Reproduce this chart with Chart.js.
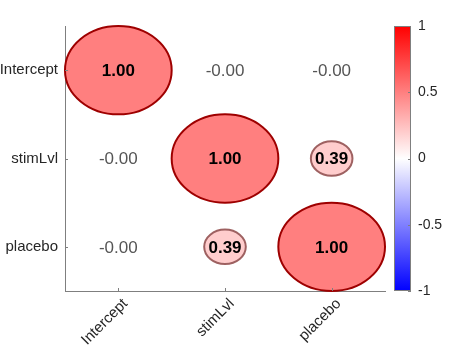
<!DOCTYPE html>
<html>
<head>
<meta charset="utf-8">
<script src="https://cdn.jsdelivr.net/npm/chart.js@4.4.0/dist/chart.umd.min.js"></script>
<style>
html, body { margin: 0; padding: 0; background: #fff; }
</style>
</head>
<body>
<canvas id="corrChart" width="474" height="351"></canvas>
<script>
// variable names and correlation matrix rows
const varNames = ['Intercept', 'stimLvl', 'placebo'];
const corrIntercept = [1.00, -0.001, -0.001];
const corrStimLvl = [-0.001, 1.00, 0.39];
const corrPlacebo = [-0.001, 0.39, 1.00];
const corrRows = [corrIntercept, corrStimLvl, corrPlacebo];
const cbTicks = [-1, -0.5, 0, 0.5, 1];

const FONT = '"Liberation Sans", Arial, Helvetica, sans-serif';

// one point per cell
const cells = [];
corrRows.forEach((row, i) => {
    row.forEach((v, j) => {
        cells.push({x: j + 1, y: i + 1, r: v});
    });
});

function cmap(v) {
    // blue - white - red
    if (v >= 0) return [255, Math.round(255 * (1 - v)), Math.round(255 * (1 - v))];
    return [Math.round(255 * (1 + v)), Math.round(255 * (1 + v)), 255];
}

const corrPlugin = {
    id: 'corrPlugin',
    afterDatasetsDraw(chart) {
        const ctx = chart.ctx;
        const xs = chart.scales.x, ys = chart.scales.y;
        const meta = chart.getDatasetMeta(0);
        ctx.save();
        meta.data.forEach((pt, k) => {
            const d = cells[k];
            const a = Math.abs(d.r);
            const cx = xs.getPixelForValue(d.x), cy = ys.getPixelForValue(d.y);
            const rx = Math.abs(xs.getPixelForValue(d.x + 0.5 * a) - cx);
            const ry = Math.abs(ys.getPixelForValue(d.y + 0.5 * a) - cy);
            const c = cmap(d.r);
            const txt = d.r.toFixed(2);
            if (a >= 0.005) {
                ctx.beginPath();
                ctx.ellipse(cx, cy, rx, ry, 0, 0, Math.PI * 2);
                ctx.fillStyle = 'rgba(' + c[0] + ',' + c[1] + ',' + c[2] + ',0.5)';
                ctx.fill();
                ctx.lineWidth = 2;
                ctx.strokeStyle = 'rgb(' + Math.round(c[0] * 0.62) + ',' + Math.round(c[1] * 0.62) + ',' + Math.round(c[2] * 0.62) + ')';
                ctx.stroke();
                ctx.fillStyle = '#000';
                ctx.font = 'bold 17px ' + FONT;
            } else {
                ctx.fillStyle = '#555';
                ctx.font = '17px ' + FONT;
            }
            ctx.textAlign = 'center';
            ctx.textBaseline = 'middle';
            ctx.fillText(txt, cx, cy + 1);
        });

        // inward ticks on the axes
        ctx.strokeStyle = '#7f7f7f';
        ctx.lineWidth = 1;
        const area = chart.chartArea;
        varNames.forEach((n, i) => {
            const px = Math.round(xs.getPixelForValue(i + 1)) + 0.5;
            ctx.beginPath();
            ctx.moveTo(px, area.bottom);
            ctx.lineTo(px, area.bottom - 3);
            ctx.stroke();
            const py = Math.round(ys.getPixelForValue(i + 1)) + 0.5;
            ctx.beginPath();
            ctx.moveTo(area.left, py);
            ctx.lineTo(area.left + 3, py);
            ctx.stroke();
        });

        // colorbar
        const cb = chart.scales.cb;
        const x0 = cb.left + 9, w = 17;
        const top = cb.getPixelForValue(1), bot = cb.getPixelForValue(-1);
        const g = ctx.createLinearGradient(0, top, 0, bot);
        g.addColorStop(0, 'rgb(255,0,0)');
        g.addColorStop(0.5, 'rgb(255,255,255)');
        g.addColorStop(1, 'rgb(0,0,255)');
        ctx.fillStyle = g;
        ctx.fillRect(x0, top, w, bot - top);
        ctx.strokeStyle = '#7f7f7f';
        ctx.strokeRect(x0 + 0.5, top + 0.5, w - 1, bot - top - 1);
        cbTicks.forEach(t => {
            const py = Math.round(cb.getPixelForValue(t)) + 0.5;
            ctx.beginPath();
            ctx.moveTo(x0 + w, py);
            ctx.lineTo(x0 + w - 3, py);
            ctx.stroke();
        });
        ctx.restore();
    }
};

function catTicks(scale) {
    scale.ticks = varNames.map((n, i) => ({value: i + 1}));
}

const corrChart = new Chart(document.getElementById('corrChart').getContext('2d'), {
    type: 'scatter',
    data: {
        datasets: [{
            data: cells,
            pointRadius: 0,
            pointHoverRadius: 0
        }]
    },
    options: {
        responsive: false,
        animation: false,
        events: [],
        layout: { padding: { top: 26, left: 0, right: 0, bottom: 0 } },
        plugins: {
            legend: { display: false },
            tooltip: { enabled: false }
        },
        scales: {
            x: {
                type: 'linear',
                min: 0.5,
                max: 3.5,
                afterBuildTicks: catTicks,
                afterFit: s => { s.height = 60; },
                grid: { display: false, drawTicks: false },
                border: { display: true, color: '#7f7f7f', width: 1 },
                ticks: {
                    callback: v => varNames[Math.round(v) - 1],
                    minRotation: 45,
                    maxRotation: 45,
                    padding: 4,
                    labelOffset: 7,
                    color: '#262626',
                    font: { family: FONT, size: 15 }
                }
            },
            y: {
                type: 'linear',
                reverse: true,
                min: 0.5,
                max: 3.5,
                afterBuildTicks: catTicks,
                afterFit: s => { s.width = 65; s.paddingTop = 0; s.paddingBottom = 0; },
                grid: { display: false, drawTicks: false },
                border: { display: true, color: '#7f7f7f', width: 1 },
                ticks: {
                    callback: v => varNames[Math.round(v) - 1],
                    padding: 7,
                    color: '#262626',
                    font: { family: FONT, size: 15 }
                }
            },
            cb: {
                type: 'linear',
                axis: 'y',
                position: 'right',
                min: -1,
                max: 1,
                afterBuildTicks: s => { s.ticks = cbTicks.map(v => ({value: v})); },
                afterFit: s => { s.width = 89; s.paddingTop = 8; s.paddingBottom = 8; },
                grid: { display: false, drawTicks: false },
                border: { display: false },
                ticks: {
                    callback: v => String(v),
                    padding: 33,
                    color: '#262626',
                    font: { family: FONT, size: 14 }
                }
            }
        }
    },
    plugins: [corrPlugin]
});
</script>
</body>
</html>
